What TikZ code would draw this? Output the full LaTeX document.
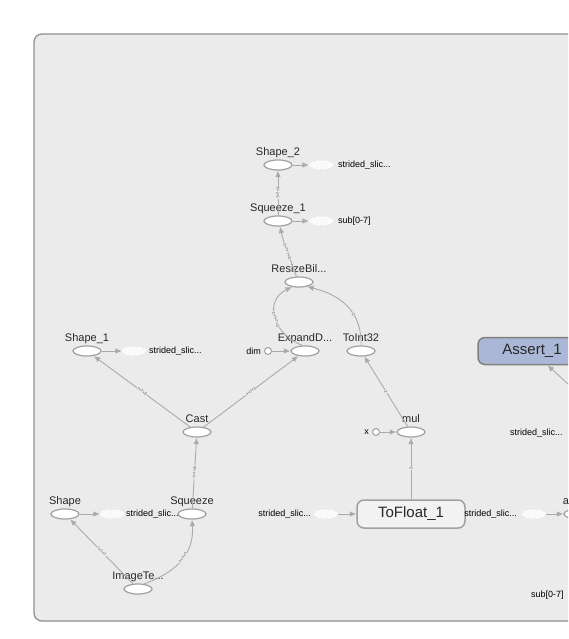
\documentclass[tikz,border=0pt]{standalone}
\usepackage{fontspec}
\setmainfont{Liberation Sans}
\usetikzlibrary{shapes.geometric,arrows.meta,positioning}

\definecolor{fundo}{RGB}{235,235,235}
\definecolor{borda}{RGB}{160,160,160}
\definecolor{linha}{RGB}{170,170,170}
\definecolor{texto}{RGB}{40,40,40}
\definecolor{azul}{RGB}{171,183,214}

\tikzset{
  painel/.style={draw=borda!90!black, line width=1.3pt, fill=fundo, rounded corners=8pt},
  op/.style={ellipse, draw=borda, fill=white, line width=1.2pt, minimum width=28pt, minimum height=10pt, inner sep=0pt},
  const/.style={circle, draw=borda, fill=white, line width=1pt, minimum size=7pt, inner sep=0pt},
  proxy/.style={ellipse, draw=white, densely dashed, line width=1.2pt, fill=white!75!fundo, minimum width=23pt, minimum height=8pt, inner sep=0pt},
  rotulo/.style={font=\fontsize{11}{11}\selectfont, text=texto, inner sep=0pt, text height=8pt, text depth=2.5pt},
  pequeno/.style={font=\fontsize{9}{9}\selectfont, text=black, inner sep=0pt},
  forma/.style={font=\fontsize{4}{4}\selectfont, text=texto!80, fill=fundo, inner sep=.4pt, sloped},
  aresta/.style={draw=linha, line width=.9pt, -{Latex[length=6.5pt,width=5.5pt]}},
  caixa/.style={rectangle, rounded corners=7pt, draw=borda, line width=1.5pt, font=\fontsize{15}{15}\selectfont, text=texto},
}

\begin{document}
\begin{tikzpicture}[x=1pt,y=-1pt]
  \useasboundingbox (0,0) rectangle (568,639);
  \clip (0,0) rectangle (568,639);

  % Painel
  \draw[painel] (34,34) rectangle (620,621);

  % Nos
  \node[op, label={[rotulo, label distance=1.5pt]above:Shape\_2}] (shape2) at (278,165) {};
  \node[op, label={[rotulo, label distance=1.5pt]above:Squeeze\_1}] (squeeze1) at (278,221) {};
  \node[op, label={[rotulo, label distance=1.5pt]above:ResizeBil...}] (resize) at (299,282) {};
  \node[op, label={[rotulo, label distance=1.5pt]above:ExpandD...}] (expand) at (305,351) {};
  \node[op, label={[rotulo, label distance=1.5pt]above:ToInt32}] (toint) at (361,351) {};
  \node[op, label={[rotulo, label distance=1.5pt]above:Shape\_1}] (shape1) at (87,351) {};
  \node[op, label={[rotulo, label distance=1.5pt]above:Cast}] (cast) at (197,432) {};
  \node[op, label={[rotulo, label distance=1.5pt]above:mul}] (mul) at (411,432) {};
  \node[op, label={[rotulo, label distance=1.5pt]above:Shape}] (shape) at (65,514) {};
  \node[op, label={[rotulo, label distance=1.5pt]above:Squeeze}] (squeeze) at (192,514) {};
  \node[op, label={[rotulo, label distance=1.5pt]above:ImageTe...}] (image) at (138,589) {};
  \node[op, label={[rotulo, label distance=1.5pt, xshift=-12pt]above:a}] (anode) at (578,514) {};

  \node[caixa, fill=white!35!fundo, minimum width=108pt, minimum height=28pt] (tofloat) at (411,514) {ToFloat\_1};
  \node[caixa, fill=azul, draw=borda!80!black, minimum width=108pt, minimum height=27pt] (assert) at (532,351) {Assert\_1};
  \coordinate (foraA) at (580,395);

  % Constantes
  \node[const] (dim) at (268,351) {};
  \node[pequeno, left=3pt of dim] (dimtxt) {dim};
  \node[const] (xc) at (376,432) {};
  \node[pequeno, left=3pt of xc] (xtxt) {x};

  % Proxies
  \node[proxy] (p2) at (321,165) {};
  \node[pequeno, anchor=west] (p2txt) at (338,165) {strided\_slic...};
  \node[proxy] (p3) at (321,221) {};
  \node[pequeno, anchor=west] (p3txt) at (338,221) {sub[0-7]};
  \node[proxy] (p1) at (134,351) {};
  \node[pequeno, anchor=west] (p1txt) at (149,351) {strided\_slic...};
  \node[proxy] (p0) at (112,514) {};
  \node[pequeno, anchor=west] (p0txt) at (126,514) {strided\_slic...};
  \node[proxy] (pin) at (326,514) {};
  \node[pequeno, anchor=east] (pintxt) at (311,514) {strided\_slic...};
  \node[proxy] (pout) at (534,514) {};
  \node[pequeno, anchor=east] (pouttxt) at (517,514) {strided\_slic...};
  \node[proxy] (pr1) at (580,433) {};
  \node[pequeno, anchor=west] (pr1txt) at (510,433) {strided\_slic...};
  \node[proxy] (pr2) at (580,595) {};
  \node[pequeno, anchor=west] (pr2txt) at (531,595) {sub[0-7]};

  % Arestas
  \draw[aresta] (squeeze1) -- node[forma] {?×?×3} (shape2);
  \draw[aresta] (resize.115) .. controls (290,258) and (284,245) .. node[forma] {1×?×?×3} (squeeze1.-70);
  \draw[aresta] (expand.115) .. controls (270,332) and (265,300) .. node[forma, pos=.45] {1×?×?×3} (resize.215);
  \draw[aresta] (toint.north) .. controls (362,315) and (345,296) .. node[forma, pos=.4] {2} (resize.-30);
  \draw[aresta] (cast) -- node[forma] {?×?×3} (shape1);
  \draw[aresta] (cast) -- node[forma] {?×?×3} (expand);
  \draw[aresta] (squeeze) -- node[forma] {?×?×3} (cast);
  \draw[aresta] (mul) -- node[forma] {2} (toint);
  \draw[aresta] (tofloat) -- node[forma] {2} (mul);
  \draw[aresta] (image) -- node[forma] {?×?×?} (shape);
  \draw[aresta] (image.40) .. controls (182,570) and (194,550) .. node[forma] {?×?×?} (squeeze.south);
  \draw[aresta] (foraA) -- (assert);

  \draw[aresta] (dim) -- (expand);
  \draw[aresta] (xc) -- (mul);
  \draw[aresta] (shape2) -- (p2);
  \draw[aresta] (squeeze1) -- (p3);
  \draw[aresta] (shape1) -- (p1);
  \draw[aresta] (shape) -- (p0);
  \draw[aresta] (pin) -- (tofloat);
  \draw[aresta] (pout) -- (anode);
\end{tikzpicture}
\end{document}
